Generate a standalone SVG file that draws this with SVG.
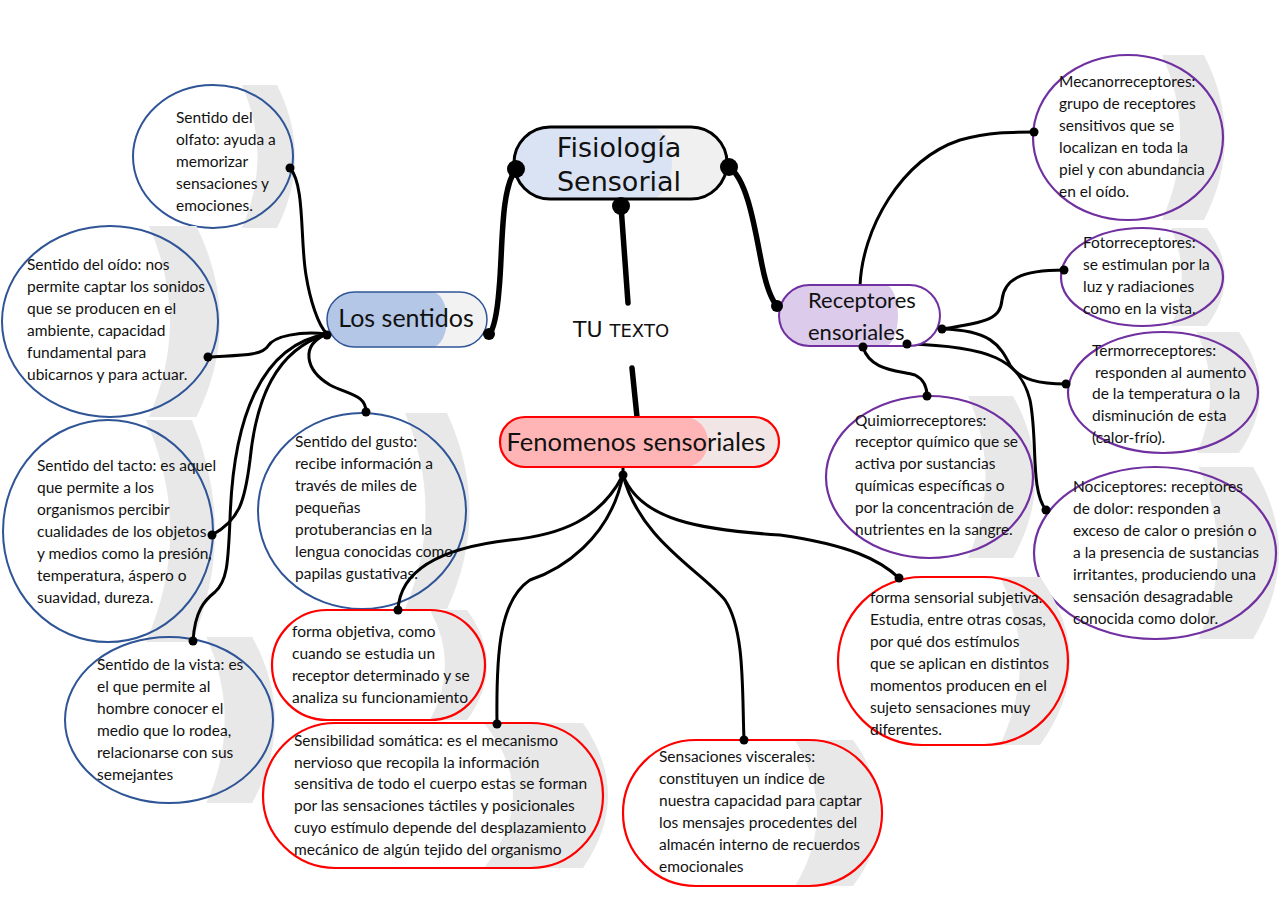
<svg xmlns="http://www.w3.org/2000/svg" width="1280" height="905" viewBox="0 0 1280 905">
<style>
.sh{fill:#e8e8e8;stroke:none}
.bl{fill:none;stroke:#2f5597;stroke-width:2}
.pu{fill:none;stroke:#7030a0;stroke-width:2.2}
.rd{fill:none;stroke:#ff0000;stroke-width:2.2}
.t{font-family:Lato,"Liberation Sans",sans-serif;font-size:15.5px;fill:#111}
.c{fill:none;stroke:#000;stroke-width:3;stroke-linecap:round}
.ct{fill:none;stroke:#000;stroke-width:5.5;stroke-linecap:round}
.d{fill:#000}
</style>
<defs>
<clipPath id="cpT"><rect x="514" y="127" width="213" height="72" rx="36"/></clipPath>
<clipPath id="cpS"><rect x="327" y="292" width="160" height="55" rx="27.5"/></clipPath>
<clipPath id="cpR"><rect x="779" y="285" width="161" height="61" rx="30.5"/></clipPath>
<clipPath id="cpF"><rect x="500" y="417" width="279" height="50" rx="25"/></clipPath>
</defs>
<rect width="1280" height="905" fill="#fff"/>

<g id="olfato">
<path class="sh" d="M241.8,85 L277,85 Q313,156.5 277,228 L241.8,228 Q273.3,156.5 241.8,85Z"/>
<ellipse class="bl" cx="213" cy="156.5" rx="80" ry="71.5"/>
<text class="t"><tspan x="176" y="123">Sentido del</tspan><tspan x="176" y="145">olfato: ayuda a</tspan><tspan x="176" y="167">memorizar</tspan><tspan x="176" y="189">sensaciones y</tspan><tspan x="176" y="211">emociones.</tspan></text>
</g>
<g id="oido">
<path class="sh" d="M148.9,226 L196.4,226 Q243.6,321.5 196.4,417 L148.9,417 Q190.9,321.5 148.9,226Z"/>
<ellipse class="bl" cx="110" cy="321.5" rx="108" ry="95.5"/>
<text class="t"><tspan x="27" y="270">Sentido del oído: nos</tspan><tspan x="27" y="292">permite captar los sonidos</tspan><tspan x="27" y="314">que se producen en el</tspan><tspan x="27" y="336">ambiente, capacidad</tspan><tspan x="27" y="358">fundamental para</tspan><tspan x="27" y="380">ubicarnos y para actuar.</tspan></text>
</g>
<g id="tacto">
<path class="sh" d="M145.8,420 L192,420 Q238,531 192,642 L145.8,642 Q194.6,531 145.8,420Z"/>
<ellipse class="bl" cx="108" cy="531" rx="105" ry="111"/>
<text class="t"><tspan x="37" y="471">Sentido del tacto: es aquel</tspan><tspan x="37" y="493">que permite a los</tspan><tspan x="37" y="515">organismos percibir</tspan><tspan x="37" y="537">cualidades de los objetos</tspan><tspan x="37" y="559">y medios como la presión,</tspan><tspan x="37" y="581">temperatura, áspero o</tspan><tspan x="37" y="603">suavidad, dureza.</tspan></text>
</g>
<g id="vista">
<path class="sh" d="M206.4,637 L252.2,637 Q297.8,720 252.2,803 L206.4,803 Q242.9,720 206.4,637Z"/>
<ellipse class="bl" cx="169" cy="720" rx="104" ry="83"/>
<text class="t"><tspan x="97" y="670">Sentido de la vista: es</tspan><tspan x="97" y="692">el que permite al</tspan><tspan x="97" y="714">hombre conocer el</tspan><tspan x="97" y="736">medio que lo rodea,</tspan><tspan x="97" y="758">relacionarse con sus</tspan><tspan x="97" y="780">semejantes</tspan></text>
</g>
<g id="gusto">
<path class="sh" d="M405,413 L447,413 Q492,511 447,609 L405,609 Q446,511 405,413Z"/>
<ellipse class="bl" cx="362" cy="511" rx="104" ry="98"/>
<text class="t"><tspan x="295" y="447">Sentido del gusto:</tspan><tspan x="295" y="469">recibe información a</tspan><tspan x="295" y="491">través de miles de</tspan><tspan x="295" y="513">pequeñas</tspan><tspan x="295" y="535">protuberancias en la</tspan><tspan x="295" y="557">lengua conocidas como</tspan><tspan x="295" y="579">papilas gustativas.</tspan></text>
</g>

<g id="mecano">
<path class="sh" d="M1162,55 L1204,55 Q1246,137.5 1204,220 L1162,220 Q1198.5,137.5 1162,55Z"/>
<ellipse class="pu" cx="1128" cy="137.5" rx="95" ry="82.5"/>
<text class="t"><tspan x="1059" y="87">Mecanorreceptores:</tspan><tspan x="1059" y="109">grupo de receptores</tspan><tspan x="1059" y="131">sensitivos que se</tspan><tspan x="1059" y="153">localizan en toda la</tspan><tspan x="1059" y="175">piel y con abundancia</tspan><tspan x="1059" y="197">en el oído.</tspan></text>
</g>
<g id="foto">
<path class="sh" d="M1171,228 L1206.8,228 Q1243,277 1206.8,326 L1171,326 Q1192.6,277 1171,228Z"/>
<ellipse class="pu" cx="1142" cy="277" rx="81" ry="49"/>
<text class="t"><tspan x="1083" y="248">Fotorreceptores:</tspan><tspan x="1083" y="270">se estimulan por la</tspan><tspan x="1083" y="292">luz y radiaciones</tspan><tspan x="1083" y="314">como en la vista.</tspan></text>
</g>
<g id="termo">
<path class="sh" d="M1197,332 L1239,332 Q1281,392.5 1239,453 L1197,453 Q1223.8,392.5 1197,332Z"/>
<ellipse class="pu" cx="1163" cy="392.5" rx="95" ry="60.5"/>
<text class="t"><tspan x="1092" y="356">Termorreceptores:</tspan><tspan x="1095" y="378">responden al aumento</tspan><tspan x="1092" y="399">de la temperatura o la</tspan><tspan x="1092" y="421">disminución de esta</tspan><tspan x="1092" y="443">(calor-frío).</tspan></text>
</g>
<g id="quimio">
<path class="sh" d="M968,396 L1013,396 Q1058,477 1013,558 L968,558 Q1003,477 968,396Z"/>
<ellipse class="pu" cx="929.5" cy="477" rx="103.5" ry="81"/>
<text class="t"><tspan x="855" y="426">Quimiorreceptores:</tspan><tspan x="855" y="447">receptor químico que se</tspan><tspan x="855" y="469">activa por sustancias</tspan><tspan x="855" y="491">químicas específicas o</tspan><tspan x="855" y="513">por la concentración de</tspan><tspan x="855" y="535">nutrientes en la sangre.</tspan></text>
</g>
<g id="noci">
<path class="sh" d="M1198.6,467 L1253,467 Q1305,553 1253,639 L1198.6,639 Q1236.4,553 1198.6,467Z"/>
<ellipse class="pu" cx="1155" cy="553" rx="121" ry="86"/>
<text class="t"><tspan x="1073" y="492">Nociceptores: receptores</tspan><tspan x="1073" y="514">de dolor: responden a</tspan><tspan x="1073" y="536">exceso de calor o presión o</tspan><tspan x="1073" y="558">a la presencia de sustancias</tspan><tspan x="1073" y="580">irritantes, produciendo una</tspan><tspan x="1073" y="602">sensación desagradable</tspan><tspan x="1073" y="624">conocida como dolor.</tspan></text>
</g>

<g id="objetiva">
<path class="sh" d="M430,610 L467,610 Q507,665 467,720 L430,720 Q460,665 430,610Z"/>
<rect class="rd" x="272" y="610" width="213" height="110" rx="55"/>
<text class="t"><tspan x="292" y="637">forma objetiva, como</tspan><tspan x="292" y="659">cuando se estudia un</tspan><tspan x="292" y="681">receptor determinado y se</tspan><tspan x="292" y="703">analiza su funcionamiento</tspan></text>
</g>
<g id="somatica">
<path class="sh" d="M484,723 L583,723 Q633,795.5 583,868 L484,868 Q542,795.5 484,723Z"/>
<rect class="rd" x="263" y="723" width="340" height="145" rx="72.5"/>
<text class="t"><tspan x="294" y="746">Sensibilidad somática: es el mecanismo</tspan><tspan x="294" y="768">nervioso que recopila la información</tspan><tspan x="294" y="789">sensitiva de todo el cuerpo estas se forman</tspan><tspan x="294" y="811">por las sensaciones táctiles y posicionales</tspan><tspan x="294" y="833">cuyo estímulo depende del desplazamiento</tspan><tspan x="294" y="855">mecánico de algún tejido del organismo</tspan></text>
</g>
<g id="viscerales">
<path class="sh" d="M795,740 L853,740 Q907,813 853,886 L795,886 Q839,813 795,740Z"/>
<rect class="rd" x="623" y="740" width="259" height="146" rx="73"/>
<text class="t"><tspan x="659" y="762">Sensaciones viscerales:</tspan><tspan x="659" y="784">constituyen un índice de</tspan><tspan x="659" y="806">nuestra capacidad para captar</tspan><tspan x="659" y="828">los mensajes procedentes del</tspan><tspan x="659" y="850">almacén interno de recuerdos</tspan><tspan x="659" y="872">emocionales</tspan></text>
</g>
<g id="subjetiva">
<path class="sh" d="M1000,577 L1040,577 Q1100,661 1040,745 L1000,745 Q1040,661 1000,577Z"/>
<rect class="rd" x="838" y="577" width="230" height="168" rx="84"/>
<text class="t"><tspan x="870" y="603">forma sensorial subjetiva.</tspan><tspan x="870" y="625">Estudia, entre otras cosas,</tspan><tspan x="870" y="647">por qué dos estímulos</tspan><tspan x="870" y="669">que se aplican en distintos</tspan><tspan x="870" y="691">momentos producen en el</tspan><tspan x="870" y="713">sujeto sensaciones muy</tspan><tspan x="870" y="735">diferentes.</tspan></text>
</g>

<g id="connectors">
<path class="ct" d="M516,169 C500,190 503,250 499,290 C497,315 493,330 489,335"/>
<path class="ct" d="M729,167 C748,180 755,230 762,265 C766,285 771,300 778,307"/>
<path class="ct" d="M621,206 L628,303"/>
<path class="ct" d="M632,368 L637,417"/>
<path class="c" d="M290,168 C305,185 300,240 306,275 C310,300 318,325 327,334"/>
<path class="c" d="M208,357 C240,355 262,356 268,346 C274,336 300,331 327,334"/>
<path class="c" d="M212,535 C240,520 245,500 250,460 C256,400 275,350 327,334"/>
<path class="c" d="M193,641 C195,610 205,600 215,592 C228,580 228,560 230,520 C233,420 260,345 327,334"/>
<path class="c" d="M327,334 C300,345 305,370 330,385 C350,395 366,395 366,412"/>
<path class="c" d="M860,286 C862,230 900,160 960,140 C990,132 1010,132 1034,132"/>
<path class="c" d="M942,329 C990,322 1000,318 1002,300 C1004,280 1020,270 1064,270"/>
<path class="c" d="M942,329 C990,330 1000,345 1010,365 C1020,380 1040,384 1066,384"/>
<path class="c" d="M863,347 C870,370 895,370 915,375 C925,380 927,388 927,396"/>
<path class="c" d="M907,344 C990,346 1020,360 1030,400 C1038,440 1030,490 1046,510"/>
<path class="c" d="M623,467 L623,475"/>
<path class="c" d="M623,475 C600,520 560,535 510,540 C440,548 400,570 398,610"/>
<path class="c" d="M623,475 C610,540 560,570 530,580 C500,600 496,650 497,724"/>
<path class="c" d="M623,475 C640,540 700,570 725,600 C745,630 742,690 744,740"/>
<path class="c" d="M623,475 C640,520 700,530 780,535 C850,545 880,560 899,578"/>
</g>

<g id="titulo">
<g clip-path="url(#cpT)"><rect x="514" y="127" width="213" height="72" fill="#f0f0f0"/><rect x="490" y="127" width="182" height="72" rx="22" ry="36" fill="#dae3f3"/></g>
<rect x="514" y="127" width="213" height="72" rx="36" fill="none" stroke="#000" stroke-width="3"/>
<text font-family="'DejaVu Sans',sans-serif" font-size="27" fill="#111" text-anchor="middle"><tspan x="619" y="157">Fisiología</tspan><tspan x="619" y="191">Sensorial</tspan></text>
</g>
<g id="sentidos">
<g clip-path="url(#cpS)"><rect x="327" y="292" width="160" height="55" fill="#f2f2f2"/><rect x="300" y="292" width="147" height="55" rx="15" ry="27.5" fill="#b4c7e7"/></g>
<rect x="327" y="292" width="160" height="55" rx="27.5" fill="none" stroke="#2f5597" stroke-width="1.5"/>
<text x="406" y="327" font-family="Lato,sans-serif" font-size="25" fill="#111" text-anchor="middle">Los sentidos</text>
</g>
<g id="receptores">
<g clip-path="url(#cpR)"><rect x="779" y="285" width="161" height="61" fill="#fff"/><rect x="750" y="285" width="148" height="61" rx="13" ry="30.5" fill="#dccbeb"/></g>
<rect x="779" y="285" width="161" height="61" rx="30.5" fill="none" stroke="#7030a0" stroke-width="2"/>
<text font-family="Lato,sans-serif" font-size="22" fill="#111"><tspan x="808" y="308">Receptores</tspan><tspan x="808" y="340">ensoriales</tspan></text>
</g>
<g id="fenomenos">
<g clip-path="url(#cpF)"><rect x="500" y="417" width="279" height="50" fill="#f2e5e5"/><rect x="470" y="417" width="238" height="50" rx="23" ry="25" fill="#ffb5b5"/></g>
<rect x="500" y="417" width="279" height="50" rx="25" fill="none" stroke="#ff0000" stroke-width="2.2"/>
<text x="636" y="451" font-family="Lato,sans-serif" font-size="25.5" fill="#111" text-anchor="middle">Fenomenos sensoriales</text>
</g>
<g id="tutexto">
<text x="621" y="337" font-family="'DejaVu Sans',sans-serif" fill="#111" text-anchor="middle"><tspan font-size="22">TU </tspan><tspan font-size="18">TEXTO</tspan></text>
</g>

<g id="dots">
<circle class="d" cx="516" cy="169" r="9"/>
<circle class="d" cx="729" cy="167" r="9"/>
<circle class="d" cx="621" cy="206" r="9"/>
<circle class="d" cx="489" cy="334" r="6"/>
<circle class="d" cx="777" cy="306" r="6"/>
<circle class="d" cx="290" cy="168" r="4.5"/>
<circle class="d" cx="208" cy="357" r="4.5"/>
<circle class="d" cx="212" cy="535" r="4.5"/>
<circle class="d" cx="193" cy="641" r="4.5"/>
<circle class="d" cx="366" cy="412" r="4.5"/>
<circle class="d" cx="327" cy="335" r="4.5"/>
<circle class="d" cx="1034" cy="132" r="4.5"/>
<circle class="d" cx="1064" cy="270" r="4.5"/>
<circle class="d" cx="1066" cy="384" r="4.5"/>
<circle class="d" cx="927" cy="396" r="4.5"/>
<circle class="d" cx="1046" cy="510" r="4.5"/>
<circle class="d" cx="942" cy="329" r="4.5"/>
<circle class="d" cx="907" cy="344" r="4.5"/>
<circle class="d" cx="863" cy="347" r="4.5"/>
<circle class="d" cx="623" cy="475" r="4.5"/>
<circle class="d" cx="398" cy="610" r="4.5"/>
<circle class="d" cx="497" cy="724" r="4.5"/>
<circle class="d" cx="744" cy="740" r="4.5"/>
<circle class="d" cx="899" cy="578" r="4.5"/>
</g>
</svg>
